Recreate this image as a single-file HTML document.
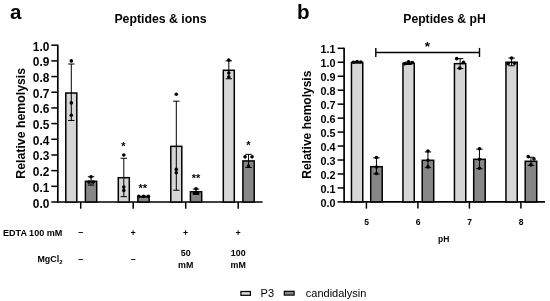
<!DOCTYPE html>
<html><head><meta charset="utf-8"><title>Peptides</title>
<style>html,body{margin:0;padding:0;background:#fff;overflow:hidden}svg text{fill:#000}</style></head>
<body>
<svg width="550" height="301" viewBox="0 0 550 301" style="display:block">
<rect width="550" height="301" fill="#fff"/>
<text x="10.1" y="18.8" font-size="20.6" font-weight="bold" font-family="Liberation Sans, Arial, sans-serif">a</text>
<text x="296.9" y="18.8" font-size="20.6" font-weight="bold" font-family="Liberation Sans, Arial, sans-serif">b</text>
<text x="160.5" y="23" text-anchor="middle" font-size="12.3" font-weight="bold" font-family="Liberation Sans, Arial, sans-serif">Peptides &amp; ions</text>
<text x="444.5" y="23" text-anchor="middle" font-size="12.15" font-weight="bold" font-family="Liberation Sans, Arial, sans-serif">Peptides &amp; pH</text>
<text transform="translate(25.3,123.3) rotate(-90)" text-anchor="middle" font-size="12.3" font-weight="bold" font-family="Liberation Sans, Arial, sans-serif">Relative hemolysis</text>
<text transform="translate(311.3,124.7) rotate(-90)" text-anchor="middle" font-size="12" font-weight="bold" font-family="Liberation Sans, Arial, sans-serif">Relative hemolysis</text>
<line x1="57.8" y1="44.6" x2="57.8" y2="202.8" stroke="#000" stroke-width="1.7"/>
<line x1="57.199999999999996" y1="202.0" x2="262.6" y2="202.0" stroke="#000" stroke-width="1.7"/>
<line x1="51.3" y1="202.00" x2="57.8" y2="202.00" stroke="#000" stroke-width="1.5"/>
<text x="49.3" y="207.50" text-anchor="end" font-size="11.9" font-weight="bold" font-family="Liberation Sans, Arial, sans-serif">0.0</text>
<line x1="51.3" y1="186.32" x2="57.8" y2="186.32" stroke="#000" stroke-width="1.5"/>
<text x="49.3" y="191.82" text-anchor="end" font-size="11.9" font-weight="bold" font-family="Liberation Sans, Arial, sans-serif">0.1</text>
<line x1="51.3" y1="170.64" x2="57.8" y2="170.64" stroke="#000" stroke-width="1.5"/>
<text x="49.3" y="176.14" text-anchor="end" font-size="11.9" font-weight="bold" font-family="Liberation Sans, Arial, sans-serif">0.2</text>
<line x1="51.3" y1="154.96" x2="57.8" y2="154.96" stroke="#000" stroke-width="1.5"/>
<text x="49.3" y="160.46" text-anchor="end" font-size="11.9" font-weight="bold" font-family="Liberation Sans, Arial, sans-serif">0.3</text>
<line x1="51.3" y1="139.28" x2="57.8" y2="139.28" stroke="#000" stroke-width="1.5"/>
<text x="49.3" y="144.78" text-anchor="end" font-size="11.9" font-weight="bold" font-family="Liberation Sans, Arial, sans-serif">0.4</text>
<line x1="51.3" y1="123.60" x2="57.8" y2="123.60" stroke="#000" stroke-width="1.5"/>
<text x="49.3" y="129.10" text-anchor="end" font-size="11.9" font-weight="bold" font-family="Liberation Sans, Arial, sans-serif">0.5</text>
<line x1="51.3" y1="107.92" x2="57.8" y2="107.92" stroke="#000" stroke-width="1.5"/>
<text x="49.3" y="113.42" text-anchor="end" font-size="11.9" font-weight="bold" font-family="Liberation Sans, Arial, sans-serif">0.6</text>
<line x1="51.3" y1="92.24" x2="57.8" y2="92.24" stroke="#000" stroke-width="1.5"/>
<text x="49.3" y="97.74" text-anchor="end" font-size="11.9" font-weight="bold" font-family="Liberation Sans, Arial, sans-serif">0.7</text>
<line x1="51.3" y1="76.56" x2="57.8" y2="76.56" stroke="#000" stroke-width="1.5"/>
<text x="49.3" y="82.06" text-anchor="end" font-size="11.9" font-weight="bold" font-family="Liberation Sans, Arial, sans-serif">0.8</text>
<line x1="51.3" y1="60.88" x2="57.8" y2="60.88" stroke="#000" stroke-width="1.5"/>
<text x="49.3" y="66.38" text-anchor="end" font-size="11.9" font-weight="bold" font-family="Liberation Sans, Arial, sans-serif">0.9</text>
<line x1="51.3" y1="45.20" x2="57.8" y2="45.20" stroke="#000" stroke-width="1.5"/>
<text x="49.3" y="50.70" text-anchor="end" font-size="11.9" font-weight="bold" font-family="Liberation Sans, Arial, sans-serif">1.0</text>
<line x1="344.1" y1="47.699999999999996" x2="344.1" y2="202.70000000000002" stroke="#000" stroke-width="1.7"/>
<line x1="343.5" y1="201.9" x2="545" y2="201.9" stroke="#000" stroke-width="1.7"/>
<line x1="337.6" y1="201.90" x2="344.1" y2="201.90" stroke="#000" stroke-width="1.5"/>
<text x="335.6" y="207.00" text-anchor="end" font-size="10.8" font-weight="bold" font-family="Liberation Sans, Arial, sans-serif">0.0</text>
<line x1="337.6" y1="187.94" x2="344.1" y2="187.94" stroke="#000" stroke-width="1.5"/>
<text x="335.6" y="193.04" text-anchor="end" font-size="10.8" font-weight="bold" font-family="Liberation Sans, Arial, sans-serif">0.1</text>
<line x1="337.6" y1="173.97" x2="344.1" y2="173.97" stroke="#000" stroke-width="1.5"/>
<text x="335.6" y="179.07" text-anchor="end" font-size="10.8" font-weight="bold" font-family="Liberation Sans, Arial, sans-serif">0.2</text>
<line x1="337.6" y1="160.01" x2="344.1" y2="160.01" stroke="#000" stroke-width="1.5"/>
<text x="335.6" y="165.11" text-anchor="end" font-size="10.8" font-weight="bold" font-family="Liberation Sans, Arial, sans-serif">0.3</text>
<line x1="337.6" y1="146.05" x2="344.1" y2="146.05" stroke="#000" stroke-width="1.5"/>
<text x="335.6" y="151.15" text-anchor="end" font-size="10.8" font-weight="bold" font-family="Liberation Sans, Arial, sans-serif">0.4</text>
<line x1="337.6" y1="132.08" x2="344.1" y2="132.08" stroke="#000" stroke-width="1.5"/>
<text x="335.6" y="137.18" text-anchor="end" font-size="10.8" font-weight="bold" font-family="Liberation Sans, Arial, sans-serif">0.5</text>
<line x1="337.6" y1="118.12" x2="344.1" y2="118.12" stroke="#000" stroke-width="1.5"/>
<text x="335.6" y="123.22" text-anchor="end" font-size="10.8" font-weight="bold" font-family="Liberation Sans, Arial, sans-serif">0.6</text>
<line x1="337.6" y1="104.15" x2="344.1" y2="104.15" stroke="#000" stroke-width="1.5"/>
<text x="335.6" y="109.25" text-anchor="end" font-size="10.8" font-weight="bold" font-family="Liberation Sans, Arial, sans-serif">0.7</text>
<line x1="337.6" y1="90.19" x2="344.1" y2="90.19" stroke="#000" stroke-width="1.5"/>
<text x="335.6" y="95.29" text-anchor="end" font-size="10.8" font-weight="bold" font-family="Liberation Sans, Arial, sans-serif">0.8</text>
<line x1="337.6" y1="76.23" x2="344.1" y2="76.23" stroke="#000" stroke-width="1.5"/>
<text x="335.6" y="81.33" text-anchor="end" font-size="10.8" font-weight="bold" font-family="Liberation Sans, Arial, sans-serif">0.9</text>
<line x1="337.6" y1="62.26" x2="344.1" y2="62.26" stroke="#000" stroke-width="1.5"/>
<text x="335.6" y="67.36" text-anchor="end" font-size="10.8" font-weight="bold" font-family="Liberation Sans, Arial, sans-serif">1.0</text>
<line x1="337.6" y1="48.30" x2="344.1" y2="48.30" stroke="#000" stroke-width="1.5"/>
<text x="335.6" y="53.40" text-anchor="end" font-size="10.8" font-weight="bold" font-family="Liberation Sans, Arial, sans-serif">1.1</text>
<line x1="80.7" y1="202.0" x2="80.7" y2="208.7" stroke="#000" stroke-width="1.5"/>
<line x1="133.2" y1="202.0" x2="133.2" y2="208.7" stroke="#000" stroke-width="1.5"/>
<line x1="185.7" y1="202.0" x2="185.7" y2="208.7" stroke="#000" stroke-width="1.5"/>
<line x1="238.2" y1="202.0" x2="238.2" y2="208.7" stroke="#000" stroke-width="1.5"/>
<rect x="65.80" y="93.02" width="11.00" height="108.98" fill="#d6d6d6" stroke="#000" stroke-width="1.5"/>
<line x1="71.30" y1="64.02" x2="71.30" y2="120.46" stroke="#000" stroke-width="1"/>
<line x1="68.10" y1="64.02" x2="74.50" y2="64.02" stroke="#000" stroke-width="1"/>
<line x1="68.10" y1="120.46" x2="74.50" y2="120.46" stroke="#000" stroke-width="1"/>
<circle cx="71.30" cy="60.88" r="1.8" fill="#000"/>
<circle cx="71.30" cy="102.90" r="1.8" fill="#000"/>
<circle cx="71.30" cy="115.29" r="1.8" fill="#000"/>
<rect x="85.40" y="181.30" width="11.30" height="20.70" fill="#878787" stroke="#000" stroke-width="1.5"/>
<line x1="91.05" y1="176.76" x2="91.05" y2="185.07" stroke="#000" stroke-width="1"/>
<line x1="87.85" y1="176.76" x2="94.25" y2="176.76" stroke="#000" stroke-width="1"/>
<line x1="87.85" y1="185.07" x2="94.25" y2="185.07" stroke="#000" stroke-width="1"/>
<circle cx="91.05" cy="176.76" r="1.8" fill="#000"/>
<circle cx="88.85" cy="182.09" r="1.8" fill="#000"/>
<circle cx="93.25" cy="182.09" r="1.8" fill="#000"/>
<rect x="118.30" y="177.70" width="11.00" height="24.30" fill="#d6d6d6" stroke="#000" stroke-width="1.5"/>
<line x1="123.80" y1="158.25" x2="123.80" y2="196.67" stroke="#000" stroke-width="1"/>
<line x1="120.60" y1="158.25" x2="127.00" y2="158.25" stroke="#000" stroke-width="1"/>
<line x1="120.60" y1="196.67" x2="127.00" y2="196.67" stroke="#000" stroke-width="1"/>
<circle cx="123.80" cy="154.96" r="1.8" fill="#000"/>
<circle cx="123.80" cy="187.10" r="1.8" fill="#000"/>
<circle cx="123.80" cy="190.55" r="1.8" fill="#000"/>
<rect x="137.90" y="196.67" width="11.30" height="5.33" fill="#878787" stroke="#000" stroke-width="1.5"/>
<line x1="143.55" y1="196.20" x2="143.55" y2="197.14" stroke="#000" stroke-width="1"/>
<line x1="140.35" y1="196.20" x2="146.75" y2="196.20" stroke="#000" stroke-width="1"/>
<line x1="140.35" y1="197.14" x2="146.75" y2="197.14" stroke="#000" stroke-width="1"/>
<circle cx="138.75" cy="196.36" r="1.8" fill="#000"/>
<circle cx="143.55" cy="196.36" r="1.8" fill="#000"/>
<circle cx="148.35" cy="196.36" r="1.8" fill="#000"/>
<rect x="170.80" y="146.34" width="11.00" height="55.66" fill="#d6d6d6" stroke="#000" stroke-width="1.5"/>
<line x1="176.30" y1="101.18" x2="176.30" y2="190.24" stroke="#000" stroke-width="1"/>
<line x1="173.10" y1="101.18" x2="179.50" y2="101.18" stroke="#000" stroke-width="1"/>
<line x1="173.10" y1="190.24" x2="179.50" y2="190.24" stroke="#000" stroke-width="1"/>
<circle cx="176.30" cy="94.28" r="1.8" fill="#000"/>
<circle cx="176.30" cy="169.39" r="1.8" fill="#000"/>
<circle cx="176.30" cy="172.68" r="1.8" fill="#000"/>
<rect x="190.40" y="191.81" width="11.30" height="10.19" fill="#878787" stroke="#000" stroke-width="1.5"/>
<line x1="196.05" y1="189.14" x2="196.05" y2="194.47" stroke="#000" stroke-width="1"/>
<line x1="192.85" y1="189.14" x2="199.25" y2="189.14" stroke="#000" stroke-width="1"/>
<line x1="192.85" y1="194.47" x2="199.25" y2="194.47" stroke="#000" stroke-width="1"/>
<circle cx="196.05" cy="188.83" r="1.8" fill="#000"/>
<circle cx="194.55" cy="193.22" r="1.8" fill="#000"/>
<circle cx="197.55" cy="193.22" r="1.8" fill="#000"/>
<rect x="223.30" y="70.29" width="11.00" height="131.71" fill="#d6d6d6" stroke="#000" stroke-width="1.5"/>
<line x1="228.80" y1="60.88" x2="228.80" y2="78.76" stroke="#000" stroke-width="1"/>
<line x1="225.60" y1="60.88" x2="232.00" y2="60.88" stroke="#000" stroke-width="1"/>
<line x1="225.60" y1="78.76" x2="232.00" y2="78.76" stroke="#000" stroke-width="1"/>
<circle cx="228.80" cy="60.10" r="1.8" fill="#000"/>
<circle cx="228.80" cy="72.95" r="1.8" fill="#000"/>
<circle cx="228.80" cy="77.03" r="1.8" fill="#000"/>
<rect x="242.90" y="160.92" width="11.30" height="41.08" fill="#878787" stroke="#000" stroke-width="1.5"/>
<line x1="248.55" y1="154.33" x2="248.55" y2="167.50" stroke="#000" stroke-width="1"/>
<line x1="245.35" y1="154.33" x2="251.75" y2="154.33" stroke="#000" stroke-width="1"/>
<line x1="245.35" y1="167.50" x2="251.75" y2="167.50" stroke="#000" stroke-width="1"/>
<circle cx="245.05" cy="156.84" r="1.8" fill="#000"/>
<circle cx="252.05" cy="156.84" r="1.8" fill="#000"/>
<circle cx="248.55" cy="165.94" r="1.8" fill="#000"/>
<text x="123.5" y="149.6" text-anchor="middle" font-size="11" font-weight="bold" font-family="Liberation Sans, Arial, sans-serif">*</text>
<text x="142.8" y="191.8" text-anchor="middle" font-size="11" font-weight="bold" font-family="Liberation Sans, Arial, sans-serif">**</text>
<text x="196" y="181.6" text-anchor="middle" font-size="11" font-weight="bold" font-family="Liberation Sans, Arial, sans-serif">**</text>
<text x="248.3" y="149.3" text-anchor="middle" font-size="11" font-weight="bold" font-family="Liberation Sans, Arial, sans-serif">*</text>
<text x="62.3" y="236" text-anchor="end" font-size="9.05" font-weight="bold" font-family="Liberation Sans, Arial, sans-serif">EDTA 100 mM</text>
<text x="62.5" y="262" text-anchor="end" font-size="8.9" font-weight="bold" font-family="Liberation Sans, Arial, sans-serif">MgCl<tspan font-size="6" dy="1.8">2</tspan></text>
<text x="80.7" y="235" text-anchor="middle" font-size="8.9" font-weight="bold" font-family="Liberation Sans, Arial, sans-serif">–</text>
<text x="133.2" y="235.5" text-anchor="middle" font-size="8.9" font-weight="bold" font-family="Liberation Sans, Arial, sans-serif">+</text>
<text x="185.7" y="235.5" text-anchor="middle" font-size="8.9" font-weight="bold" font-family="Liberation Sans, Arial, sans-serif">+</text>
<text x="238.2" y="235.5" text-anchor="middle" font-size="8.9" font-weight="bold" font-family="Liberation Sans, Arial, sans-serif">+</text>
<text x="80.7" y="262.1" text-anchor="middle" font-size="8.9" font-weight="bold" font-family="Liberation Sans, Arial, sans-serif">–</text>
<text x="133.2" y="262.1" text-anchor="middle" font-size="8.9" font-weight="bold" font-family="Liberation Sans, Arial, sans-serif">–</text>
<text x="185.7" y="256" text-anchor="middle" font-size="8.9" font-weight="bold" font-family="Liberation Sans, Arial, sans-serif">50</text>
<text x="185.7" y="268" text-anchor="middle" font-size="8.9" font-weight="bold" font-family="Liberation Sans, Arial, sans-serif">mM</text>
<text x="238.2" y="256" text-anchor="middle" font-size="8.9" font-weight="bold" font-family="Liberation Sans, Arial, sans-serif">100</text>
<text x="238.2" y="268" text-anchor="middle" font-size="8.9" font-weight="bold" font-family="Liberation Sans, Arial, sans-serif">mM</text>
<line x1="366.4" y1="201.9" x2="366.4" y2="208.6" stroke="#000" stroke-width="1.5"/>
<text x="366.5" y="225.2" text-anchor="middle" font-size="8.5" font-weight="bold" font-family="Liberation Sans, Arial, sans-serif">5</text>
<line x1="417.9" y1="201.9" x2="417.9" y2="208.6" stroke="#000" stroke-width="1.5"/>
<text x="418.0" y="225.2" text-anchor="middle" font-size="8.5" font-weight="bold" font-family="Liberation Sans, Arial, sans-serif">6</text>
<line x1="469.4" y1="201.9" x2="469.4" y2="208.6" stroke="#000" stroke-width="1.5"/>
<text x="469.5" y="225.2" text-anchor="middle" font-size="8.5" font-weight="bold" font-family="Liberation Sans, Arial, sans-serif">7</text>
<line x1="520.9" y1="201.9" x2="520.9" y2="208.6" stroke="#000" stroke-width="1.5"/>
<text x="521.0" y="225.2" text-anchor="middle" font-size="8.5" font-weight="bold" font-family="Liberation Sans, Arial, sans-serif">8</text>
<text x="443.7" y="241.8" text-anchor="middle" font-size="8.5" font-weight="bold" font-family="Liberation Sans, Arial, sans-serif">pH</text>
<rect x="351.45" y="62.54" width="11.30" height="139.36" fill="#d6d6d6" stroke="#000" stroke-width="1.5"/>
<line x1="357.10" y1="61.71" x2="357.10" y2="63.10" stroke="#000" stroke-width="1"/>
<line x1="353.90" y1="61.71" x2="360.30" y2="61.71" stroke="#000" stroke-width="1"/>
<line x1="353.90" y1="63.10" x2="360.30" y2="63.10" stroke="#000" stroke-width="1"/>
<circle cx="353.30" cy="62.26" r="1.8" fill="#000"/>
<circle cx="357.10" cy="61.43" r="1.8" fill="#000"/>
<circle cx="360.90" cy="61.98" r="1.8" fill="#000"/>
<rect x="370.70" y="166.71" width="11.50" height="35.19" fill="#878787" stroke="#000" stroke-width="1.5"/>
<line x1="376.45" y1="157.91" x2="376.45" y2="173.97" stroke="#000" stroke-width="1"/>
<line x1="373.25" y1="157.91" x2="379.65" y2="157.91" stroke="#000" stroke-width="1"/>
<line x1="373.25" y1="173.97" x2="379.65" y2="173.97" stroke="#000" stroke-width="1"/>
<circle cx="376.45" cy="157.50" r="1.8" fill="#000"/>
<circle cx="376.45" cy="166.99" r="1.8" fill="#000"/>
<circle cx="376.45" cy="173.55" r="1.8" fill="#000"/>
<rect x="402.95" y="63.38" width="11.30" height="138.52" fill="#d6d6d6" stroke="#000" stroke-width="1.5"/>
<line x1="408.60" y1="61.98" x2="408.60" y2="64.50" stroke="#000" stroke-width="1"/>
<line x1="405.40" y1="61.98" x2="411.80" y2="61.98" stroke="#000" stroke-width="1"/>
<line x1="405.40" y1="64.50" x2="411.80" y2="64.50" stroke="#000" stroke-width="1"/>
<circle cx="404.80" cy="63.66" r="1.8" fill="#000"/>
<circle cx="408.60" cy="61.71" r="1.8" fill="#000"/>
<circle cx="412.40" cy="62.54" r="1.8" fill="#000"/>
<rect x="422.20" y="160.29" width="11.50" height="41.61" fill="#878787" stroke="#000" stroke-width="1.5"/>
<line x1="427.95" y1="151.91" x2="427.95" y2="167.69" stroke="#000" stroke-width="1"/>
<line x1="424.75" y1="151.91" x2="431.15" y2="151.91" stroke="#000" stroke-width="1"/>
<line x1="424.75" y1="167.69" x2="431.15" y2="167.69" stroke="#000" stroke-width="1"/>
<circle cx="427.95" cy="151.07" r="1.8" fill="#000"/>
<circle cx="427.95" cy="160.29" r="1.8" fill="#000"/>
<circle cx="427.95" cy="166.85" r="1.8" fill="#000"/>
<rect x="454.45" y="63.66" width="11.30" height="138.24" fill="#d6d6d6" stroke="#000" stroke-width="1.5"/>
<line x1="460.10" y1="58.63" x2="460.10" y2="68.55" stroke="#000" stroke-width="1"/>
<line x1="456.90" y1="58.63" x2="463.30" y2="58.63" stroke="#000" stroke-width="1"/>
<line x1="456.90" y1="68.55" x2="463.30" y2="68.55" stroke="#000" stroke-width="1"/>
<circle cx="456.70" cy="58.63" r="1.8" fill="#000"/>
<circle cx="463.40" cy="62.26" r="1.8" fill="#000"/>
<circle cx="459.80" cy="68.13" r="1.8" fill="#000"/>
<rect x="473.70" y="159.31" width="11.50" height="42.59" fill="#878787" stroke="#000" stroke-width="1.5"/>
<line x1="479.45" y1="149.12" x2="479.45" y2="168.67" stroke="#000" stroke-width="1"/>
<line x1="476.25" y1="149.12" x2="482.65" y2="149.12" stroke="#000" stroke-width="1"/>
<line x1="476.25" y1="168.67" x2="482.65" y2="168.67" stroke="#000" stroke-width="1"/>
<circle cx="479.45" cy="148.70" r="1.8" fill="#000"/>
<circle cx="479.45" cy="159.31" r="1.8" fill="#000"/>
<circle cx="479.45" cy="168.25" r="1.8" fill="#000"/>
<rect x="505.95" y="62.26" width="11.30" height="139.64" fill="#d6d6d6" stroke="#000" stroke-width="1.5"/>
<line x1="511.60" y1="58.07" x2="511.60" y2="65.75" stroke="#000" stroke-width="1"/>
<line x1="508.40" y1="58.07" x2="514.80" y2="58.07" stroke="#000" stroke-width="1"/>
<line x1="508.40" y1="65.75" x2="514.80" y2="65.75" stroke="#000" stroke-width="1"/>
<circle cx="511.60" cy="58.07" r="1.8" fill="#000"/>
<circle cx="508.10" cy="63.66" r="1.8" fill="#000"/>
<circle cx="514.60" cy="63.24" r="1.8" fill="#000"/>
<rect x="525.20" y="161.27" width="11.50" height="40.63" fill="#878787" stroke="#000" stroke-width="1.5"/>
<line x1="530.95" y1="157.22" x2="530.95" y2="165.32" stroke="#000" stroke-width="1"/>
<line x1="527.75" y1="157.22" x2="534.15" y2="157.22" stroke="#000" stroke-width="1"/>
<line x1="527.75" y1="165.32" x2="534.15" y2="165.32" stroke="#000" stroke-width="1"/>
<circle cx="528.25" cy="156.66" r="1.8" fill="#000"/>
<circle cx="533.95" cy="158.89" r="1.8" fill="#000"/>
<circle cx="530.95" cy="164.90" r="1.8" fill="#000"/>
<line x1="375.8" y1="52.5" x2="479.5" y2="52.5" stroke="#000" stroke-width="1.4"/>
<line x1="375.8" y1="47.9" x2="375.8" y2="57" stroke="#000" stroke-width="1.4"/>
<line x1="479.5" y1="47.9" x2="479.5" y2="57" stroke="#000" stroke-width="1.4"/>
<text x="427.4" y="50.6" text-anchor="middle" font-size="13.5" font-weight="bold" font-family="Liberation Sans, Arial, sans-serif">*</text>
<rect x="240.9" y="291.5" width="9.5" height="3.8" fill="#d6d6d6" stroke="#000" stroke-width="1.2"/>
<text x="260.6" y="296.6" font-size="11" font-family="Liberation Sans, Arial, sans-serif">P3</text>
<rect x="284.3" y="291.3" width="9.8" height="3.8" fill="#878787" stroke="#000" stroke-width="1.2"/>
<text x="305.8" y="296.6" font-size="11" font-family="Liberation Sans, Arial, sans-serif">candidalysin</text>
</svg>
</body></html>
